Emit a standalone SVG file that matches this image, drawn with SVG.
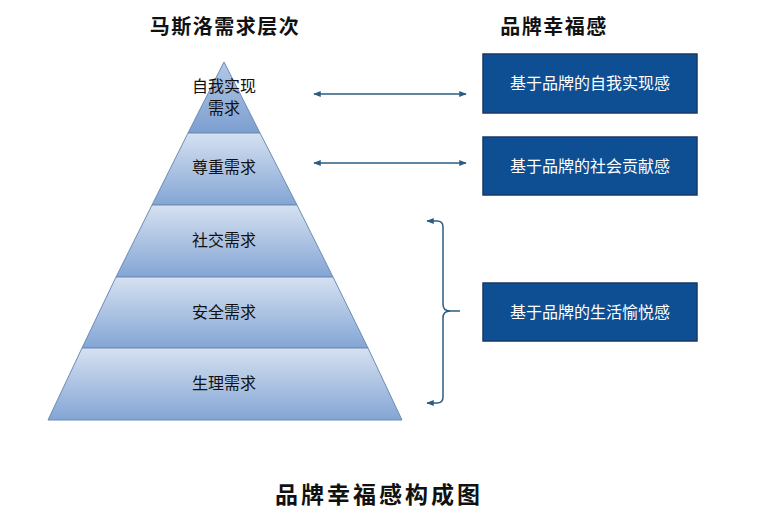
<svg xmlns="http://www.w3.org/2000/svg" width="770" height="520" viewBox="0 0 770 520">
<defs>
<linearGradient id="band" x1="0" y1="0" x2="0" y2="1">
<stop offset="0" stop-color="#d6e1f1"/>
<stop offset="1" stop-color="#83a5d4"/>
</linearGradient>
<linearGradient id="topband" x1="0" y1="0" x2="0" y2="1">
<stop offset="0" stop-color="#b3c8e6"/>
<stop offset="1" stop-color="#7c9fd0"/>
</linearGradient>
<marker id="arr" viewBox="0 0 10 10" refX="9" refY="5" markerWidth="5" markerHeight="5" orient="auto-start-reverse">
<path d="M0,1 L10,5 L0,9 Z" fill="#2b5d82"/>
</marker>
</defs>
<style>
.band{stroke:#6c8bb5;stroke-width:1}
.lbl{font-family:"Noto Sans CJK SC","Liberation Sans",sans-serif;font-size:16px;fill:#111;text-anchor:middle}
.box{fill:#0e4e92;stroke:#1a3866;stroke-width:1.5}
.btxt{font-family:"Noto Sans CJK SC","Liberation Sans",sans-serif;font-size:16px;fill:#ffffff;text-anchor:middle}
.title{font-family:"Noto Sans CJK SC","Liberation Sans",sans-serif;font-weight:bold;fill:#111;text-anchor:middle}
.conn{fill:none;stroke:#2b5d82;stroke-width:1.5}
</style>
<rect width="770" height="520" fill="#ffffff"/>
<text class="title" x="225" y="34" font-size="20" letter-spacing="1.5">马斯洛需求层次</text>
<text class="title" x="554" y="34" font-size="20" letter-spacing="1.5">品牌幸福感</text>
<g id="pyramid">
<g id="level5">
<polygon class="band" points="224,62 260,133 188,133" fill="url(#topband)"/>
<text class="lbl" x="224" y="92">自我实现</text>
<text class="lbl" x="224" y="114">需求</text>
</g>
<g id="level4">
<polygon class="band" points="188,133 260,133 297,205 152,205" fill="url(#band)"/>
<text class="lbl" x="224" y="173">尊重需求</text>
</g>
<g id="level3">
<polygon class="band" points="152,205 297,205 333,277 116,277" fill="url(#band)"/>
<text class="lbl" x="224" y="246">社交需求</text>
</g>
<g id="level2">
<polygon class="band" points="116,277 333,277 368,348 82,348" fill="url(#band)"/>
<text class="lbl" x="224" y="318">安全需求</text>
</g>
<g id="level1">
<polygon class="band" points="82,348 368,348 402,420 48,420" fill="url(#band)"/>
<text class="lbl" x="224" y="389">生理需求</text>
</g>
</g>
<g id="box1">
<rect class="box" x="483" y="54" width="214" height="59"/>
<text class="btxt" x="590" y="89">基于品牌的自我实现感</text>
</g>
<g id="box2">
<rect class="box" x="483" y="137" width="214" height="58"/>
<text class="btxt" x="590" y="172">基于品牌的社会贡献感</text>
</g>
<g id="box3">
<rect class="box" x="483" y="283" width="214" height="58"/>
<text class="btxt" x="590" y="318">基于品牌的生活愉悦感</text>
</g>
<g id="connectors">
<line class="conn" x1="314" y1="94" x2="466" y2="94" marker-start="url(#arr)" marker-end="url(#arr)"/>
<line class="conn" x1="314" y1="163" x2="466" y2="163" marker-start="url(#arr)" marker-end="url(#arr)"/>
<path class="conn" d="M460,311 L450,311 Q443,311 443,304 L443,227 Q443,221 437,221 L427,221" marker-end="url(#arr)"/>
<path class="conn" d="M450,311 Q443,311 443,318 L443,397 Q443,403 437,403 L427,403" marker-end="url(#arr)"/>
</g>
<text class="title" x="379" y="503" font-size="23" letter-spacing="3">品牌幸福感构成图</text>
</svg>
